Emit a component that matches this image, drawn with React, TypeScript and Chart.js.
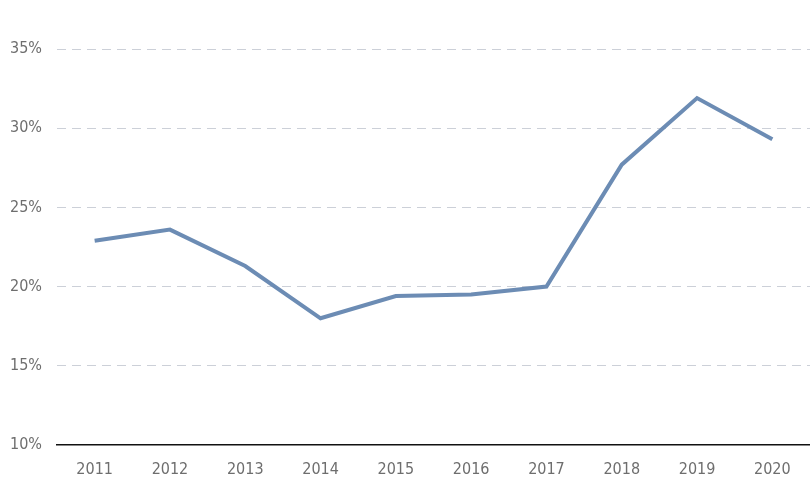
import React, { useEffect, useRef } from "react";
import { Chart, registerables } from "chart.js";

Chart.register(...registerables);

const categories = ["2011", "2012", "2013", "2014", "2015", "2016", "2017", "2018", "2019", "2020"];
const values = [22.9, 23.6, 21.3, 18.0, 19.4, 19.5, 20.0, 27.7, 31.9, 29.3];
const yTicks = [10, 15, 20, 25, 30, 35];

const FONT = "'Liberation Sans Narrow', 'DejaVu Sans Condensed', Roboto, sans-serif";

export default function App() {
  const ref = useRef<HTMLCanvasElement | null>(null);
  useEffect(() => {
    document.body.style.margin = "0";
    if (!ref.current) return;
    const chart = new Chart(ref.current, {
      type: "line",
      data: {
        labels: categories,
        datasets: [
          {
            data: values,
            borderColor: "#6c8cb4",
            borderWidth: 4,
            pointRadius: 0,
            tension: 0,
            fill: false,
          },
        ],
      },
      options: {
        animation: false,
        responsive: false,
        layout: { padding: { top: 49, right: 0, left: 0, bottom: 0 } },
        plugins: { legend: { display: false }, tooltip: { enabled: false } },
        scales: {
          x: {
            offset: true,
            grid: { display: false },
            border: { display: true, color: "#111", width: 1.5 },
            ticks: { color: "#6e6e6e", font: { family: FONT, size: 16 }, padding: 7 },
            afterFit: (s: any) => { s.height = 35; },
          },
          y: {
            min: 10,
            max: 35,
            afterBuildTicks: (s: any) => { s.ticks = yTicks.map((v) => ({ value: v })); },
            grid: {
              color: (ctx: any) => (ctx.tick && ctx.tick.value === 10 ? "rgba(0,0,0,0)" : "#ccd0d8"),
              lineWidth: 1,
              drawTicks: false,
            },
            border: { display: false, dash: [9, 6] },
            ticks: {
              color: "#6e6e6e",
              font: { family: FONT, size: 16 },
              padding: 15,
              callback: (v: any) => v + "%",
            },
            afterFit: (s: any) => { s.width = 57; },
          },
        },
      },
    });
    return () => chart.destroy();
  }, []);
  return (
    <div style={{ width: 810, height: 480 }}>
      <canvas ref={ref} width={810} height={480} style={{ display: "block" }} />
    </div>
  );
}
